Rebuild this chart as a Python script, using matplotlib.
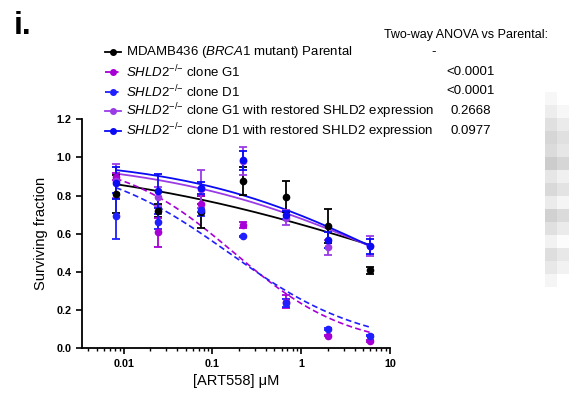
import numpy as np
import matplotlib
matplotlib.use('Agg')
import matplotlib.pyplot as plt
from matplotlib.lines import Line2D
from matplotlib.patches import Rectangle

plt.rcParams['font.family'] = ['Liberation Sans', 'DejaVu Sans']
plt.rcParams['mathtext.fontset'] = 'custom'
plt.rcParams['mathtext.rm'] = 'Liberation Sans'
plt.rcParams['mathtext.it'] = 'Liberation Sans:italic'
plt.rcParams['mathtext.bf'] = 'Liberation Sans:bold'

# ART558 doses (uM), 3-fold dilution
doses = [0.0082, 0.0247, 0.0741, 0.222, 0.667, 2.0, 6.0]

# surviving fraction means and error bars
parental = [0.81, 0.722, 0.713, 0.878, 0.795, 0.641, 0.408]
parental_err = [0.10, 0.035, 0.085, 0.073, 0.08, 0.087, 0.02]
g1 = [0.90, 0.608, 0.756, 0.648, 0.244, 0.066, 0.037]
g1_err = [0.02, 0.075, 0.04, 0.015, 0.035, 0.004, 0.004]
d1 = [0.695, 0.663, 0.725, 0.587, 0.237, 0.101, 0.066]
d1_err = [0.12, 0.04, 0.03, 0.004, 0.02, 0.004, 0.004]
g1_rest = [0.875, 0.795, 0.833, 0.982, 0.685, 0.53, 0.537]
g1_rest_err = [0.09, 0.05, 0.10, 0.075, 0.04, 0.04, 0.053]
d1_rest = [0.865, 0.824, 0.84, 0.985, 0.70, 0.568, 0.535]
d1_rest_err = [0.085, 0.09, 0.03, 0.05, 0.02, 0.04, 0.04]

# dose-response fit parameters (top, IC50, hill), bottom fixed at 0
fit_top = [1.0, 1.0, 1.0, 1.0, 1.0]
fit_ic50 = [11.6, 0.176, 0.154, 9.07, 8.76]
fit_hill = [0.25, 0.68, 0.57, 0.34, 0.38]

ko = r'$\mathit{SHLD2}^{{\mathit{-}}/{\mathit{-}}}$'
labels = [
    r'MDAMB436 ($\mathit{BRCA1}$ mutant) Parental',
    ko + ' clone G1',
    ko + ' clone D1',
    ko + ' clone G1 with restored SHLD2 expression',
    ko + ' clone D1 with restored SHLD2 expression',
]
pvals = ['-', '<0.0001', '<0.0001', '0.2668', '0.0977']

means = [parental, g1, d1, g1_rest, d1_rest]
errs = [parental_err, g1_err, d1_err, g1_rest_err, d1_rest_err]
colors = ['#000000', '#A600D6', '#1F1FFF', '#9B3BE6', '#0A0AF5']
styles = ['-', '--', '--', '-', '-']

W, H = 569, 395
fig = plt.figure(figsize=(W / 100, H / 100), dpi=100)
ax = fig.add_axes([82 / W, 1 - 348.3 / H, 308 / W, 229 / H])

xs = np.logspace(np.log10(doses[0]), np.log10(doses[-1]), 200)
for i in range(5):
    ys = fit_top[i] / (1 + (xs / fit_ic50[i]) ** fit_hill[i])
    if styles[i] == '--':
        ax.plot(xs, ys, color=colors[i], lw=1.2, dashes=(3.5, 2), zorder=2)
    else:
        ax.plot(xs, ys, color=colors[i], lw=1.3, zorder=2)
    ax.errorbar(doses, means[i], yerr=errs[i], fmt='o', ms=4.5, color=colors[i],
                ecolor=colors[i], elinewidth=1.3, capsize=3, capthick=1.3, zorder=3)

ax.set_xscale('log')
ax.set_xlim(0.0034, 10)
ax.set_ylim(0, 1.2)
ax.set_yticks([0, 0.2, 0.4, 0.6, 0.8, 1.0, 1.2])
ax.set_yticklabels(['0.0', '0.2', '0.4', '0.6', '0.8', '1.0', '1.2'])
ax.set_xticks([0.01, 0.1, 1, 10])
ax.set_xticklabels(['0.01', '0.1', '1', '10'])
for s in ['top', 'right']:
    ax.spines[s].set_visible(False)
for s in ['left', 'bottom']:
    ax.spines[s].set_linewidth(1.3)
ax.tick_params(which='major', length=4, width=1.2, labelsize=7.8)
ax.tick_params(which='minor', length=2.5, width=1.0)
ax.tick_params(axis='y', which='minor', left=False)
for lab in ax.get_xticklabels() + ax.get_yticklabels():
    lab.set_fontweight('bold')
ax.set_ylabel('Surviving fraction', fontsize=10.5, labelpad=6)
ax.set_xlabel('[ART558] μM', fontsize=10.5, labelpad=4)

# legend drawn by hand so the p-value column lines up
row_y = [52, 72, 91.5, 111, 131]
for i in range(5):
    yf = 1 - row_y[i] / H
    ln = Line2D([105 / W, 121 / W], [yf, yf], color=colors[i], lw=1.3,
                transform=fig.transFigure)
    if styles[i] == '--':
        ln.set_dashes((3, 1.5))
    fig.add_artist(ln)
    fig.add_artist(Line2D([113 / W], [yf], color=colors[i], marker='o', ms=4,
                          transform=fig.transFigure))
    fig.text(126 / W, yf, labels[i], fontsize=9.5, va='center', ha='left')
    if pvals[i] == '-':
        fig.text(434 / W, yf, pvals[i], fontsize=9.5, va='center', ha='center')
    else:
        fig.text(471 / W, yf, pvals[i], fontsize=9.5, va='center', ha='center')

fig.text(548 / W, 1 - 35 / H, 'Two-way ANOVA vs Parental:', fontsize=9,
         va='center', ha='right')
fig.text(14 / W, 1 - 34 / H, 'i.', fontsize=23, fontweight='bold',
         va='baseline', ha='left')

# pixelated block at the right edge
mosaic_grey = [0.97, 0.93, 0.88, 0.84, 0.86, 0.80, 0.90, 0.85, 0.92, 0.82,
               0.88, 0.95, 0.87, 0.91, 0.96]
for k, g in enumerate(mosaic_grey):
    y0 = 1 - (92 + 13 * (k + 1)) / H
    fig.add_artist(Rectangle((545 / W, y0), 12 / W, 13 / H, color=str(g),
                             transform=fig.transFigure, lw=0))
    g2 = min(1.0, g + 0.04)
    fig.add_artist(Rectangle((557 / W, y0), 12 / W, 13 / H, color=str(g2),
                             transform=fig.transFigure, lw=0))

fig.savefig('out.png', dpi=100)
